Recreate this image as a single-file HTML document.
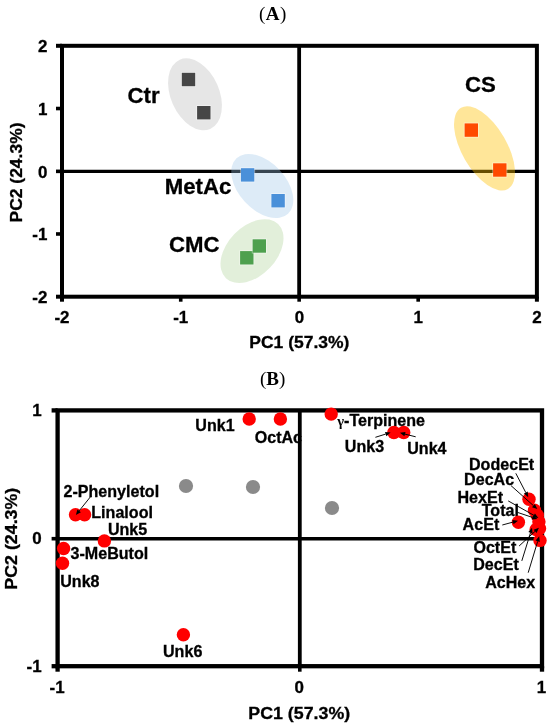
<!DOCTYPE html>
<html><head><meta charset="utf-8"><title>PCA</title>
<style>
html,body{margin:0;padding:0;background:#fff;}
svg{display:block;filter:blur(0.4px);}
text{font-family:"Liberation Sans",Arial,sans-serif;font-weight:bold;fill:#000;stroke:#000;stroke-width:0.3px;}
.t{font-family:"Liberation Serif","DejaVu Serif",serif;font-weight:normal;stroke:none;}
.g{font-family:"Liberation Serif","DejaVu Serif",serif;font-weight:bold;stroke:none;}
</style></head><body>
<svg width="550" height="728" viewBox="0 0 550 728">
<rect width="550" height="728" fill="#fff"/>

<text class="t" x="272.7" y="20.1" font-size="19" text-anchor="middle">(<tspan font-weight="bold" dx="0.4">A</tspan><tspan dx="0.4">)</tspan></text>
<line x1="62" y1="171.35" x2="536.9" y2="171.35" stroke="#000" stroke-width="3.3"/>
<line x1="299.15" y1="45.8" x2="299.15" y2="296.7" stroke="#000" stroke-width="3.8"/>
<ellipse cx="195" cy="94.3" rx="24.3" ry="37.8" transform="rotate(-23.8 195 94.3)" fill="rgba(128,128,128,0.2)"/>
<ellipse cx="262.3" cy="186" rx="23.6" ry="37.8" transform="rotate(-43 262.3 186)" fill="rgba(159,197,232,0.35)"/>
<ellipse cx="252" cy="251.1" rx="24.5" ry="37.6" transform="rotate(44 252 251.1)" fill="rgba(112,173,71,0.2)"/>
<ellipse cx="484.5" cy="148.4" rx="22.5" ry="46.9" transform="rotate(-30 484.5 148.4)" fill="rgba(255,192,0,0.4)"/>
<rect x="62" y="45.8" width="474.9" height="250.89999999999998" fill="none" stroke="#000" stroke-width="4"/>
<line x1="62.0" y1="296.7" x2="62.0" y2="301.7" stroke="#000" stroke-width="4"/>
<line x1="56" y1="296.7" x2="62" y2="296.7" stroke="#000" stroke-width="4"/>
<text transform="translate(62.0 323.2) scale(1.04 1)" font-size="16.3" text-anchor="middle">-2</text>
<text transform="translate(47.4 303.2) scale(1.04 1)" font-size="16.3" text-anchor="end">-2</text>
<line x1="180.725" y1="296.7" x2="180.725" y2="301.7" stroke="#000" stroke-width="3.6"/>
<line x1="56" y1="233.975" x2="62" y2="233.975" stroke="#000" stroke-width="3.6"/>
<text transform="translate(180.725 323.2) scale(1.04 1)" font-size="16.3" text-anchor="middle">-1</text>
<text transform="translate(47.4 240.475) scale(1.04 1)" font-size="16.3" text-anchor="end">-1</text>
<line x1="299.15" y1="296.7" x2="299.15" y2="301.7" stroke="#000" stroke-width="3.6"/>
<line x1="56" y1="171.35" x2="62" y2="171.35" stroke="#000" stroke-width="3.6"/>
<text transform="translate(299.45 323.2) scale(1.04 1)" font-size="16.3" text-anchor="middle">0</text>
<text transform="translate(47.4 177.75) scale(1.04 1)" font-size="16.3" text-anchor="end">0</text>
<line x1="418.17499999999995" y1="296.7" x2="418.17499999999995" y2="301.7" stroke="#000" stroke-width="3.6"/>
<line x1="56" y1="108.525" x2="62" y2="108.525" stroke="#000" stroke-width="3.6"/>
<text transform="translate(418.17499999999995 323.2) scale(1.04 1)" font-size="16.3" text-anchor="middle">1</text>
<text transform="translate(47.4 115.025) scale(1.04 1)" font-size="16.3" text-anchor="end">1</text>
<line x1="536.9" y1="296.7" x2="536.9" y2="301.7" stroke="#000" stroke-width="4"/>
<line x1="56" y1="45.80000000000001" x2="62" y2="45.80000000000001" stroke="#000" stroke-width="4"/>
<text transform="translate(536.9 323.2) scale(1.04 1)" font-size="16.3" text-anchor="middle">2</text>
<text transform="translate(47.4 52.30000000000001) scale(1.04 1)" font-size="16.3" text-anchor="end">2</text>
<rect x="181.0" y="72.0" width="15" height="15" fill="rgba(255,255,255,0.45)"/>
<rect x="181.8" y="72.8" width="13.4" height="13.4" fill="#464646"/>
<rect x="196.3" y="105.2" width="15" height="15" fill="rgba(255,255,255,0.45)"/>
<rect x="197.10000000000002" y="106.0" width="13.4" height="13.4" fill="#464646"/>
<rect x="240.1" y="167.4" width="15" height="15" fill="rgba(255,255,255,0.45)"/>
<rect x="240.9" y="168.20000000000002" width="13.4" height="13.4" fill="#4a90d9"/>
<rect x="270.6" y="193.2" width="15" height="15" fill="rgba(255,255,255,0.45)"/>
<rect x="271.40000000000003" y="194.0" width="13.4" height="13.4" fill="#4a90d9"/>
<rect x="239.3" y="250.3" width="15" height="15" fill="rgba(255,255,255,0.45)"/>
<rect x="240.10000000000002" y="251.10000000000002" width="13.4" height="13.4" fill="#4ea04e"/>
<rect x="251.8" y="238.5" width="15" height="15" fill="rgba(255,255,255,0.45)"/>
<rect x="252.60000000000002" y="239.3" width="13.4" height="13.4" fill="#4ea04e"/>
<rect x="463.8" y="122.6" width="15" height="15" fill="rgba(255,255,255,0.45)"/>
<rect x="464.6" y="123.39999999999999" width="13.4" height="13.4" fill="#ff4a00"/>
<rect x="492.3" y="162.5" width="15" height="15" fill="rgba(255,255,255,0.45)"/>
<rect x="493.1" y="163.3" width="13.4" height="13.4" fill="#ff4a00"/>
<text x="127.5" y="102.9" font-size="22.2">Ctr</text>
<text x="164.8" y="193.9" font-size="22.2">MetAc</text>
<text x="169.0" y="252" font-size="22.2">CMC</text>
<text x="465" y="91.6" font-size="22.2">CS</text>
<text transform="translate(299.3 348) scale(1.073 1)" font-size="16.3" text-anchor="middle">PC1 (57.3%)</text>
<text transform="translate(22.3 172.5) rotate(-90) scale(1.073 1)" font-size="16.3" text-anchor="middle">PC2 (24.3%)</text>
<text class="t" x="272.7" y="384.9" font-size="19" text-anchor="middle">(<tspan font-weight="bold">B</tspan>)</text>
<text transform="translate(195.3 431.0) scale(1.006 1)" font-size="16.0">Unk1</text>
<text transform="translate(254.7 443.4) scale(1.006 1)" font-size="16.0">OctAc</text>
<text transform="translate(344.8 451.5) scale(1.006 1)" font-size="16.0">Unk3</text>
<text transform="translate(407.2 454.2) scale(1.006 1)" font-size="16.0">Unk4</text>
<text transform="translate(63.5 496.8) scale(1.006 1)" font-size="16.0">2-Phenyletol</text>
<text transform="translate(91.3 517.5) scale(1.006 1)" font-size="16.0">Linalool</text>
<text transform="translate(107.9 534.7) scale(1.006 1)" font-size="16.0">Unk5</text>
<text transform="translate(70.5 558.8) scale(1.006 1)" font-size="16.0">3-MeButol</text>
<text transform="translate(60.2 586.6) scale(1.006 1)" font-size="16.0">Unk8</text>
<text transform="translate(163 656.5) scale(1.006 1)" font-size="16.0">Unk6</text>
<text transform="translate(469 469.5) scale(1.006 1)" font-size="16.0">DodecEt</text>
<text transform="translate(464.1 485.3) scale(1.006 1)" font-size="16.0">DecAc</text>
<text transform="translate(457.5 503.0) scale(1.006 1)" font-size="16.0">HexEt</text>
<text transform="translate(481.7 515.6) scale(1.006 1)" font-size="16.0">Total</text>
<text transform="translate(462.6 529.7) scale(1.006 1)" font-size="16.0">AcEt</text>
<text transform="translate(473.4 552.8) scale(1.006 1)" font-size="16.0">OctEt</text>
<text transform="translate(473.2 570.4) scale(1.006 1)" font-size="16.0">DecEt</text>
<text transform="translate(485.2 587.7) scale(1.006 1)" font-size="16.0">AcHex</text>
<text transform="translate(337.2 425.9) scale(1.006 1)" font-size="16.0"><tspan class="g" font-size="14.5">γ</tspan>-Terpinene</text>
<line x1="57.6" y1="538.6999999999999" x2="542" y2="538.6999999999999" stroke="#000" stroke-width="3.6"/>
<line x1="299.8" y1="410.4" x2="299.8" y2="666.2" stroke="#000" stroke-width="3.8"/>
<rect x="57.6" y="410.4" width="484.4" height="255.80000000000007" fill="none" stroke="#000" stroke-width="4.3"/>
<line x1="57.60000000000002" y1="666.2" x2="57.60000000000002" y2="671.7" stroke="#000" stroke-width="4.3"/>
<line x1="51.6" y1="666.2" x2="57.6" y2="666.2" stroke="#000" stroke-width="4.3"/>
<text transform="translate(57.10000000000002 693.1) scale(1.04 1)" font-size="16.3" text-anchor="middle">-1</text>
<text transform="translate(41.6 672.0) scale(1.04 1)" font-size="16.3" text-anchor="end">-1</text>
<line x1="299.8" y1="666.2" x2="299.8" y2="671.7" stroke="#000" stroke-width="3.6"/>
<line x1="51.6" y1="538.6999999999999" x2="57.6" y2="538.6999999999999" stroke="#000" stroke-width="3.6"/>
<text transform="translate(299.3 693.1) scale(1.04 1)" font-size="16.3" text-anchor="middle">0</text>
<text transform="translate(41.6 544.0999999999999) scale(1.04 1)" font-size="16.3" text-anchor="end">0</text>
<line x1="542.0" y1="666.2" x2="542.0" y2="671.7" stroke="#000" stroke-width="4.3"/>
<line x1="51.6" y1="410.3999999999999" x2="57.6" y2="410.3999999999999" stroke="#000" stroke-width="4.3"/>
<text transform="translate(541.5 693.1) scale(1.04 1)" font-size="16.3" text-anchor="middle">1</text>
<text transform="translate(41.6 416.19999999999993) scale(1.04 1)" font-size="16.3" text-anchor="end">1</text>
<circle cx="186" cy="486" r="7.1" fill="#8a8a8a"/>
<circle cx="253" cy="487" r="7.1" fill="#8a8a8a"/>
<circle cx="332" cy="508" r="7.1" fill="#8a8a8a"/>
<circle cx="249.2" cy="419" r="6.7" fill="#ff0000"/>
<circle cx="280.4" cy="419" r="6.7" fill="#ff0000"/>
<circle cx="331.2" cy="414.1" r="6.7" fill="#ff0000"/>
<circle cx="393.9" cy="432.5" r="6.7" fill="#ff0000"/>
<circle cx="403.7" cy="432.5" r="6.7" fill="#ff0000"/>
<circle cx="75.5" cy="514.7" r="6.7" fill="#ff0000"/>
<circle cx="84.6" cy="514.7" r="6.7" fill="#ff0000"/>
<circle cx="104.4" cy="540.9" r="6.7" fill="#ff0000"/>
<circle cx="63.6" cy="548.5" r="6.7" fill="#ff0000"/>
<circle cx="62.5" cy="563.3" r="6.7" fill="#ff0000"/>
<circle cx="183.4" cy="634.7" r="6.7" fill="#ff0000"/>
<circle cx="529" cy="499.2" r="6.7" fill="#ff0000"/>
<circle cx="534.5" cy="510.2" r="6.7" fill="#ff0000"/>
<circle cx="537.3" cy="515.2" r="6.7" fill="#ff0000"/>
<circle cx="538.9" cy="521.8" r="6.7" fill="#ff0000"/>
<circle cx="536.2" cy="529.5" r="6.7" fill="#ff0000"/>
<circle cx="539.5" cy="528.4" r="6.7" fill="#ff0000"/>
<circle cx="540" cy="540.4" r="6.7" fill="#ff0000"/>
<circle cx="518.4" cy="522.3" r="6.7" fill="#ff0000"/>
<line x1="375.4" y1="437.3" x2="385.6" y2="434.1" stroke="#000" stroke-width="0.95"/><polygon points="390.6,432.6 386.3,436.2 385.0,432.0" fill="#000"/>
<line x1="415.7" y1="436.8" x2="404.9" y2="434.1" stroke="#000" stroke-width="0.95"/><polygon points="399.9,432.8 405.5,431.9 404.4,436.2" fill="#000"/>
<line x1="90.7" y1="496.5" x2="79.1" y2="510.9" stroke="#000" stroke-width="0.95"/><polygon points="75.9,515.0 77.4,509.6 80.9,512.3" fill="#000"/>
<line x1="515.8" y1="473.3" x2="525.8" y2="492.6" stroke="#000" stroke-width="0.95"/><polygon points="528.2,497.2 523.9,493.6 527.8,491.6" fill="#000"/>
<line x1="510.9" y1="485.5" x2="533.4" y2="505.6" stroke="#000" stroke-width="0.95"/><polygon points="537.3,509.1 532.0,507.3 534.9,504.0" fill="#000"/>
<line x1="508.2" y1="500.9" x2="533.9" y2="515.3" stroke="#000" stroke-width="0.95"/><polygon points="538.4,517.9 532.8,517.3 534.9,513.4" fill="#000"/>
<line x1="517.5" y1="512.4" x2="532.4" y2="517.4" stroke="#000" stroke-width="0.95"/><polygon points="537.3,519.0 531.7,519.4 533.1,515.3" fill="#000"/>
<line x1="502.3" y1="525.0" x2="513.0" y2="522.1" stroke="#000" stroke-width="0.95"/><polygon points="518.0,520.8 513.5,524.3 512.4,520.0" fill="#000"/>
<line x1="519.1" y1="546.0" x2="535.1" y2="531.3" stroke="#000" stroke-width="0.95"/><polygon points="538.9,527.8 536.6,532.9 533.6,529.7" fill="#000"/>
<line x1="521.8" y1="560.9" x2="530.5" y2="532.8" stroke="#000" stroke-width="0.95"/><polygon points="532.0,527.8 532.6,533.4 528.4,532.1" fill="#000"/>
<line x1="528.2" y1="572.7" x2="537.7" y2="541.3" stroke="#000" stroke-width="0.95"/><polygon points="539.2,536.3 539.8,541.9 535.6,540.6" fill="#000"/>
<text transform="translate(299.2 718.9) scale(1.073 1)" font-size="16.6" text-anchor="middle">PC1 (57.3%)</text>
<text transform="translate(17 538.7) rotate(-90) scale(1.073 1)" font-size="16.6" text-anchor="middle">PC2 (24.3%)</text>
</svg></body></html>
